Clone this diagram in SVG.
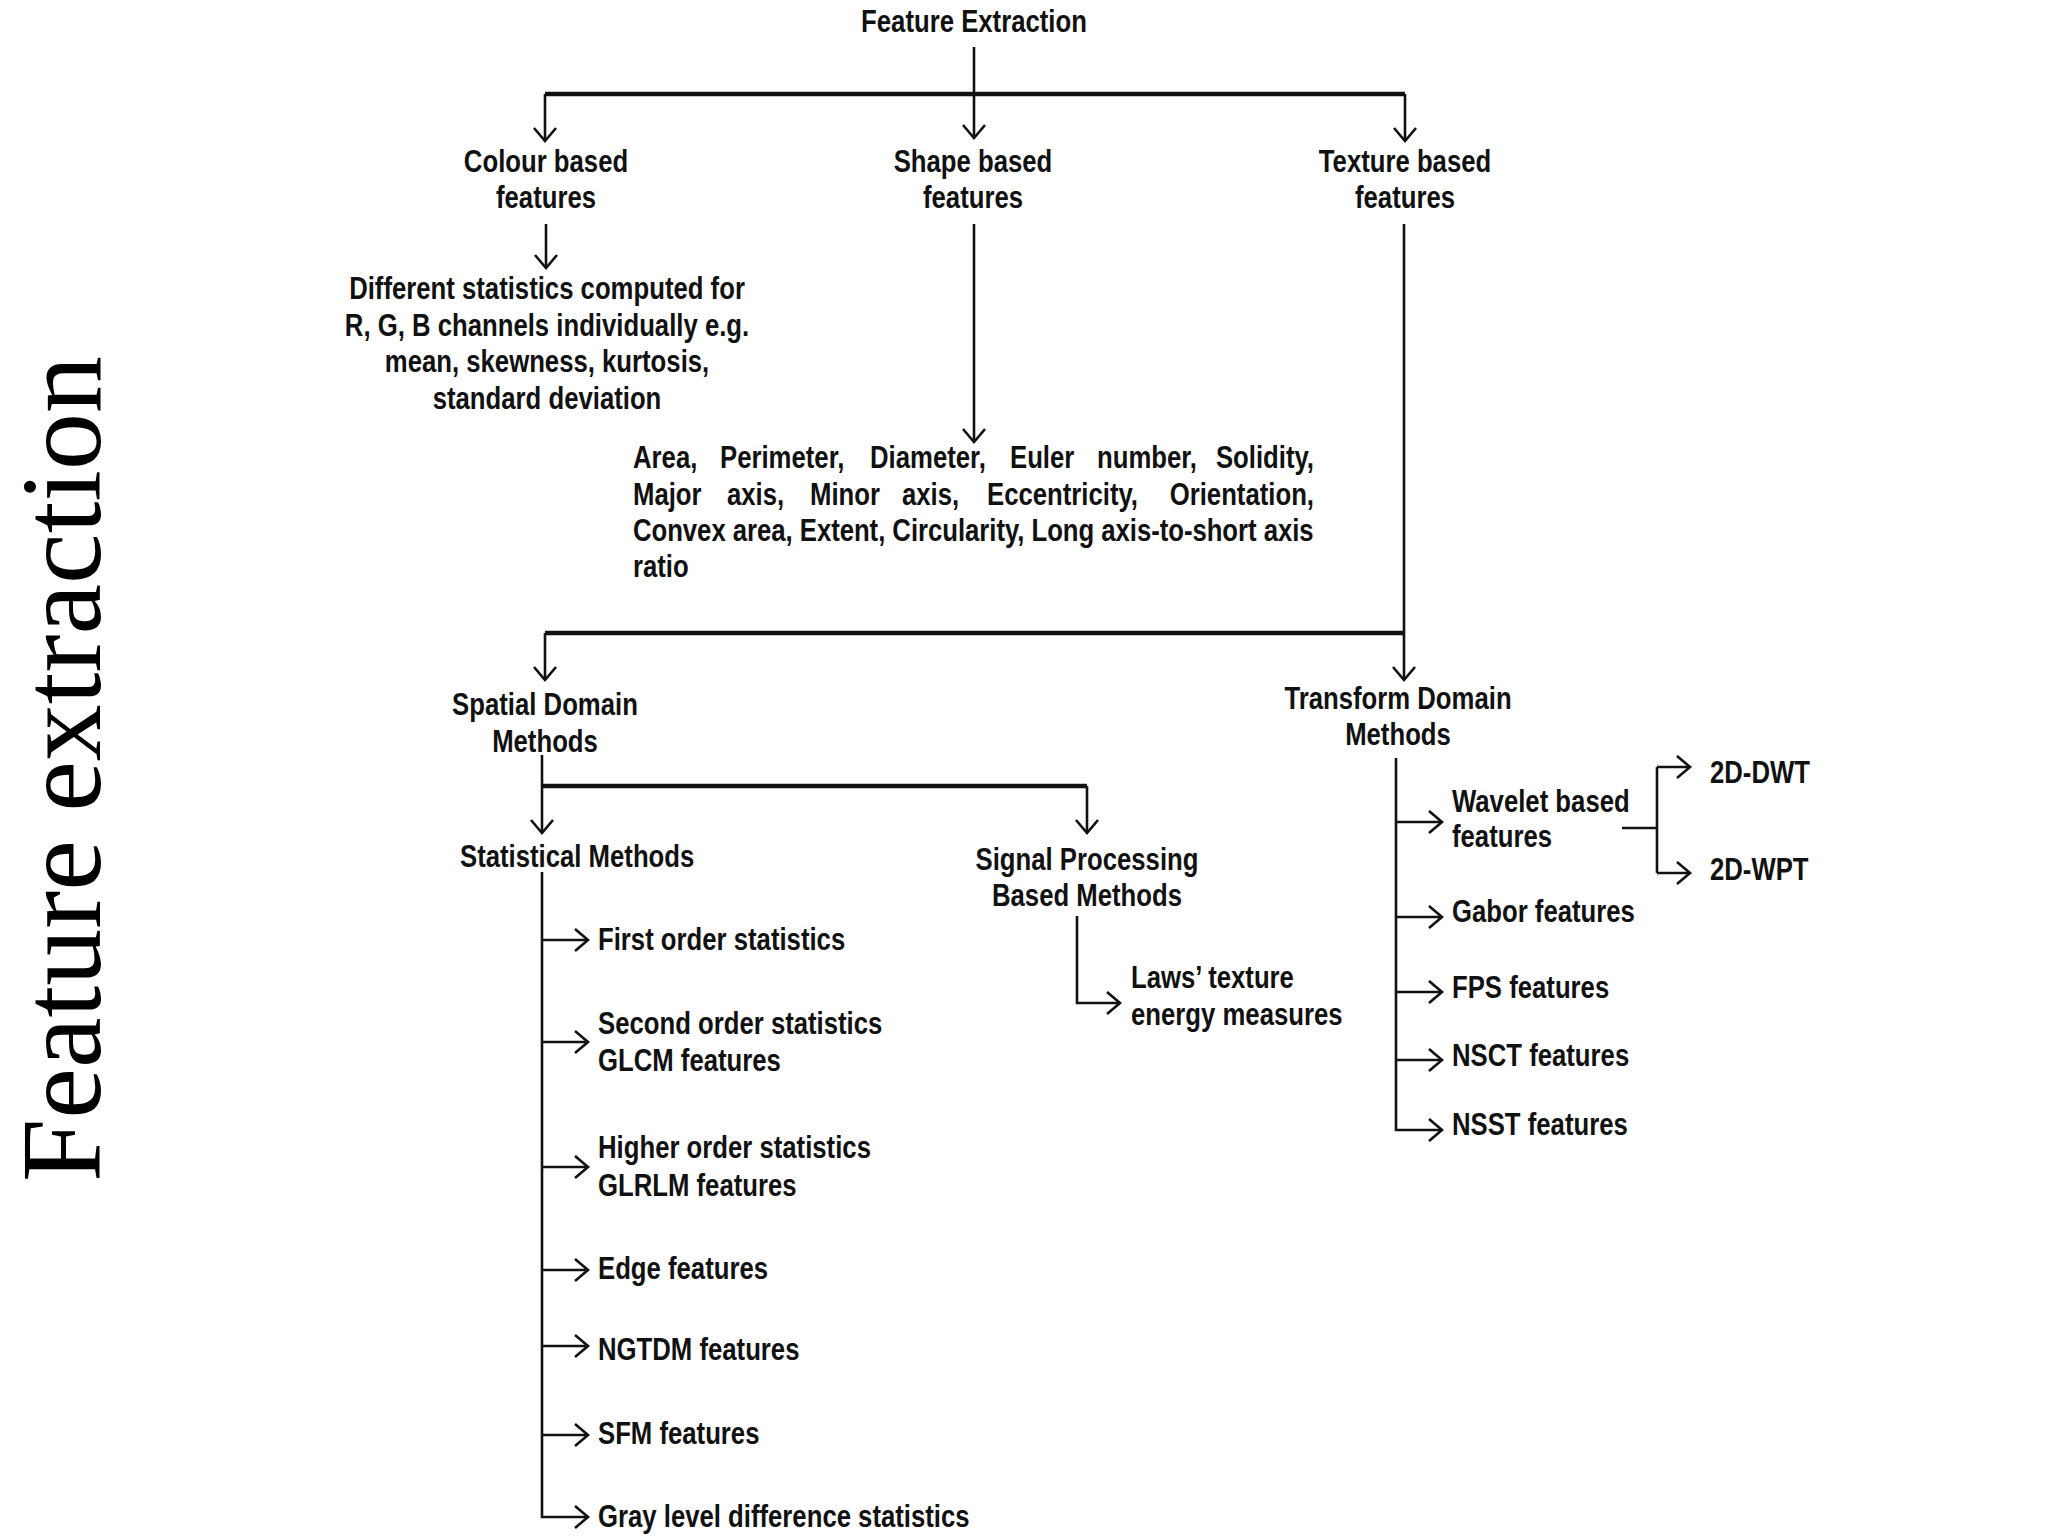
<svg xmlns="http://www.w3.org/2000/svg" width="2048" height="1536" viewBox="0 0 2048 1536">
<style>
.t{font-family:"Liberation Sans",Arial,sans-serif;font-weight:bold;font-size:31px;fill:#111}
.c{text-anchor:middle}
.e{text-anchor:end}
.ln{fill:none;stroke:#111;stroke-width:2.6}
.bar{fill:none;stroke:#111;stroke-width:4.5}
.side{font-family:"Liberation Serif","Times New Roman",serif;font-size:114px;fill:#000}
</style>
<defs>
<marker id="ah" markerUnits="userSpaceOnUse" markerWidth="30" markerHeight="30" refX="0" refY="0" orient="auto" overflow="visible">
<path d="M-13,-11 L0,0 L-13,11" fill="none" stroke="#111" stroke-width="2.6" stroke-linejoin="miter"/>
</marker>
</defs>
<rect width="2048" height="1536" fill="#fff"/>
<text class="side" text-anchor="middle" transform="translate(100,769) rotate(-90)">Feature extraction</text>
<g id="connectors">
<path class="ln" d="M974,47 V138" marker-end="url(#ah)"/>
<path class="bar" d="M545,94 H1405"/>
<path class="ln" d="M545,94 V141" marker-end="url(#ah)"/>
<path class="ln" d="M1405,94 V141" marker-end="url(#ah)"/>
<path class="ln" d="M546,224 V268" marker-end="url(#ah)"/>
<path class="ln" d="M974,224 V442" marker-end="url(#ah)"/>
<path class="ln" d="M1404,224 V680" marker-end="url(#ah)"/>
<path class="bar" d="M545,633 H1404"/>
<path class="ln" d="M545,633 V680" marker-end="url(#ah)"/>
<path class="ln" d="M542,755 V833" marker-end="url(#ah)"/>
<path class="bar" d="M542,786 H1087"/>
<path class="ln" d="M1087,786 V833" marker-end="url(#ah)"/>
<path class="ln" d="M542,872 V1517 H588" marker-end="url(#ah)"/>
<path class="ln" d="M542,940 H588" marker-end="url(#ah)"/>
<path class="ln" d="M542,1042 H588" marker-end="url(#ah)"/>
<path class="ln" d="M542,1167 H588" marker-end="url(#ah)"/>
<path class="ln" d="M542,1270 H588" marker-end="url(#ah)"/>
<path class="ln" d="M542,1346 H588" marker-end="url(#ah)"/>
<path class="ln" d="M542,1435 H588" marker-end="url(#ah)"/>
<path class="ln" d="M1077,916 V1003 H1120" marker-end="url(#ah)"/>
<path class="ln" d="M1396,758 V1130 H1442" marker-end="url(#ah)"/>
<path class="ln" d="M1396,822 H1442" marker-end="url(#ah)"/>
<path class="ln" d="M1396,917 H1442" marker-end="url(#ah)"/>
<path class="ln" d="M1396,992 H1442" marker-end="url(#ah)"/>
<path class="ln" d="M1396,1060 H1442" marker-end="url(#ah)"/>
<path class="ln" d="M1622,828 H1657"/>
<path class="ln" d="M1657,767 V873"/>
<path class="ln" d="M1657,767 H1690" marker-end="url(#ah)"/>
<path class="ln" d="M1657,873 H1690" marker-end="url(#ah)"/>
</g>
<g id="n-root"><text class="t c" transform="translate(974,32) scale(.83,1)">Feature Extraction</text></g>
<g id="n-colour"><text class="t c" transform="translate(546,172) scale(.83,1)">Colour based</text><text class="t c" transform="translate(546,208) scale(.83,1)">features</text></g>
<g id="n-shape"><text class="t c" transform="translate(973,172) scale(.83,1)">Shape based</text><text class="t c" transform="translate(973,208) scale(.83,1)">features</text></g>
<g id="n-texture"><text class="t c" transform="translate(1405,172) scale(.83,1)">Texture based</text><text class="t c" transform="translate(1405,208) scale(.83,1)">features</text></g>
<g id="n-colourstats">
<text class="t c" transform="translate(547,299) scale(.83,1)">Different statistics computed for</text>
<text class="t c" transform="translate(547,336) scale(.83,1)">R, G, B channels individually e.g.</text>
<text class="t c" transform="translate(547,372) scale(.83,1)">mean, skewness, kurtosis,</text>
<text class="t c" transform="translate(547,409) scale(.83,1)">standard deviation</text>
</g>
<g id="n-shapefeat">
<text class="t" transform="translate(633,468) scale(.83,1)">Area,</text>
<text class="t" transform="translate(720,468) scale(.83,1)">Perimeter,</text>
<text class="t" transform="translate(870,468) scale(.83,1)">Diameter,</text>
<text class="t" transform="translate(1010,468) scale(.83,1)">Euler</text>
<text class="t" transform="translate(1097,468) scale(.83,1)">number,</text>
<text class="t e" transform="translate(1314,468) scale(.83,1)">Solidity,</text>
<text class="t" transform="translate(633,505) scale(.83,1)">Major</text>
<text class="t" transform="translate(727,505) scale(.83,1)">axis,</text>
<text class="t" transform="translate(810,505) scale(.83,1)">Minor</text>
<text class="t" transform="translate(902,505) scale(.83,1)">axis,</text>
<text class="t" transform="translate(987,505) scale(.83,1)">Eccentricity,</text>
<text class="t e" transform="translate(1314,505) scale(.83,1)">Orientation,</text>
<text class="t" transform="translate(633,541) scale(.83,1)" textLength="820" lengthAdjust="spacing">Convex area, Extent, Circularity, Long axis-to-short axis</text>
<text class="t" transform="translate(633,577) scale(.83,1)">ratio</text>
</g>
<g id="n-spatial"><text class="t c" transform="translate(545,715) scale(.83,1)">Spatial Domain</text><text class="t c" transform="translate(545,752) scale(.83,1)">Methods</text></g>
<g id="n-transform"><text class="t c" transform="translate(1398,709) scale(.83,1)">Transform Domain</text><text class="t c" transform="translate(1398,745) scale(.83,1)">Methods</text></g>
<g id="n-statistical"><text class="t" transform="translate(460,867) scale(.83,1)">Statistical Methods</text></g>
<g id="n-signal"><text class="t c" transform="translate(1087,870) scale(.83,1)">Signal Processing</text><text class="t c" transform="translate(1087,906) scale(.83,1)">Based Methods</text></g>
<g id="n-first"><text class="t" transform="translate(598,950) scale(.83,1)">First order statistics</text></g>
<g id="n-second"><text class="t" transform="translate(598,1034) scale(.83,1)">Second order statistics</text><text class="t" transform="translate(598,1071) scale(.83,1)">GLCM features</text></g>
<g id="n-higher"><text class="t" transform="translate(598,1158) scale(.83,1)">Higher order statistics</text><text class="t" transform="translate(598,1196) scale(.83,1)">GLRLM features</text></g>
<g id="n-edge"><text class="t" transform="translate(598,1279) scale(.83,1)">Edge features</text></g>
<g id="n-ngtdm"><text class="t" transform="translate(598,1360) scale(.83,1)">NGTDM features</text></g>
<g id="n-sfm"><text class="t" transform="translate(598,1444) scale(.83,1)">SFM features</text></g>
<g id="n-gray"><text class="t" transform="translate(598,1527) scale(.83,1)">Gray level difference statistics</text></g>
<g id="n-laws"><text class="t" transform="translate(1131,988) scale(.83,1)">Laws’ texture</text><text class="t" transform="translate(1131,1025) scale(.83,1)">energy measures</text></g>
<g id="n-wavelet"><text class="t" transform="translate(1452,812) scale(.83,1)">Wavelet based</text><text class="t" transform="translate(1452,847) scale(.83,1)">features</text></g>
<g id="n-gabor"><text class="t" transform="translate(1452,922) scale(.83,1)">Gabor features</text></g>
<g id="n-fps"><text class="t" transform="translate(1452,998) scale(.83,1)">FPS features</text></g>
<g id="n-nsct"><text class="t" transform="translate(1452,1066) scale(.83,1)">NSCT features</text></g>
<g id="n-nsst"><text class="t" transform="translate(1452,1135) scale(.83,1)">NSST features</text></g>
<g id="n-dwt"><text class="t" transform="translate(1710,783) scale(.83,1)">2D-DWT</text></g>
<g id="n-wpt"><text class="t" transform="translate(1710,880) scale(.83,1)">2D-WPT</text></g>
</svg>
